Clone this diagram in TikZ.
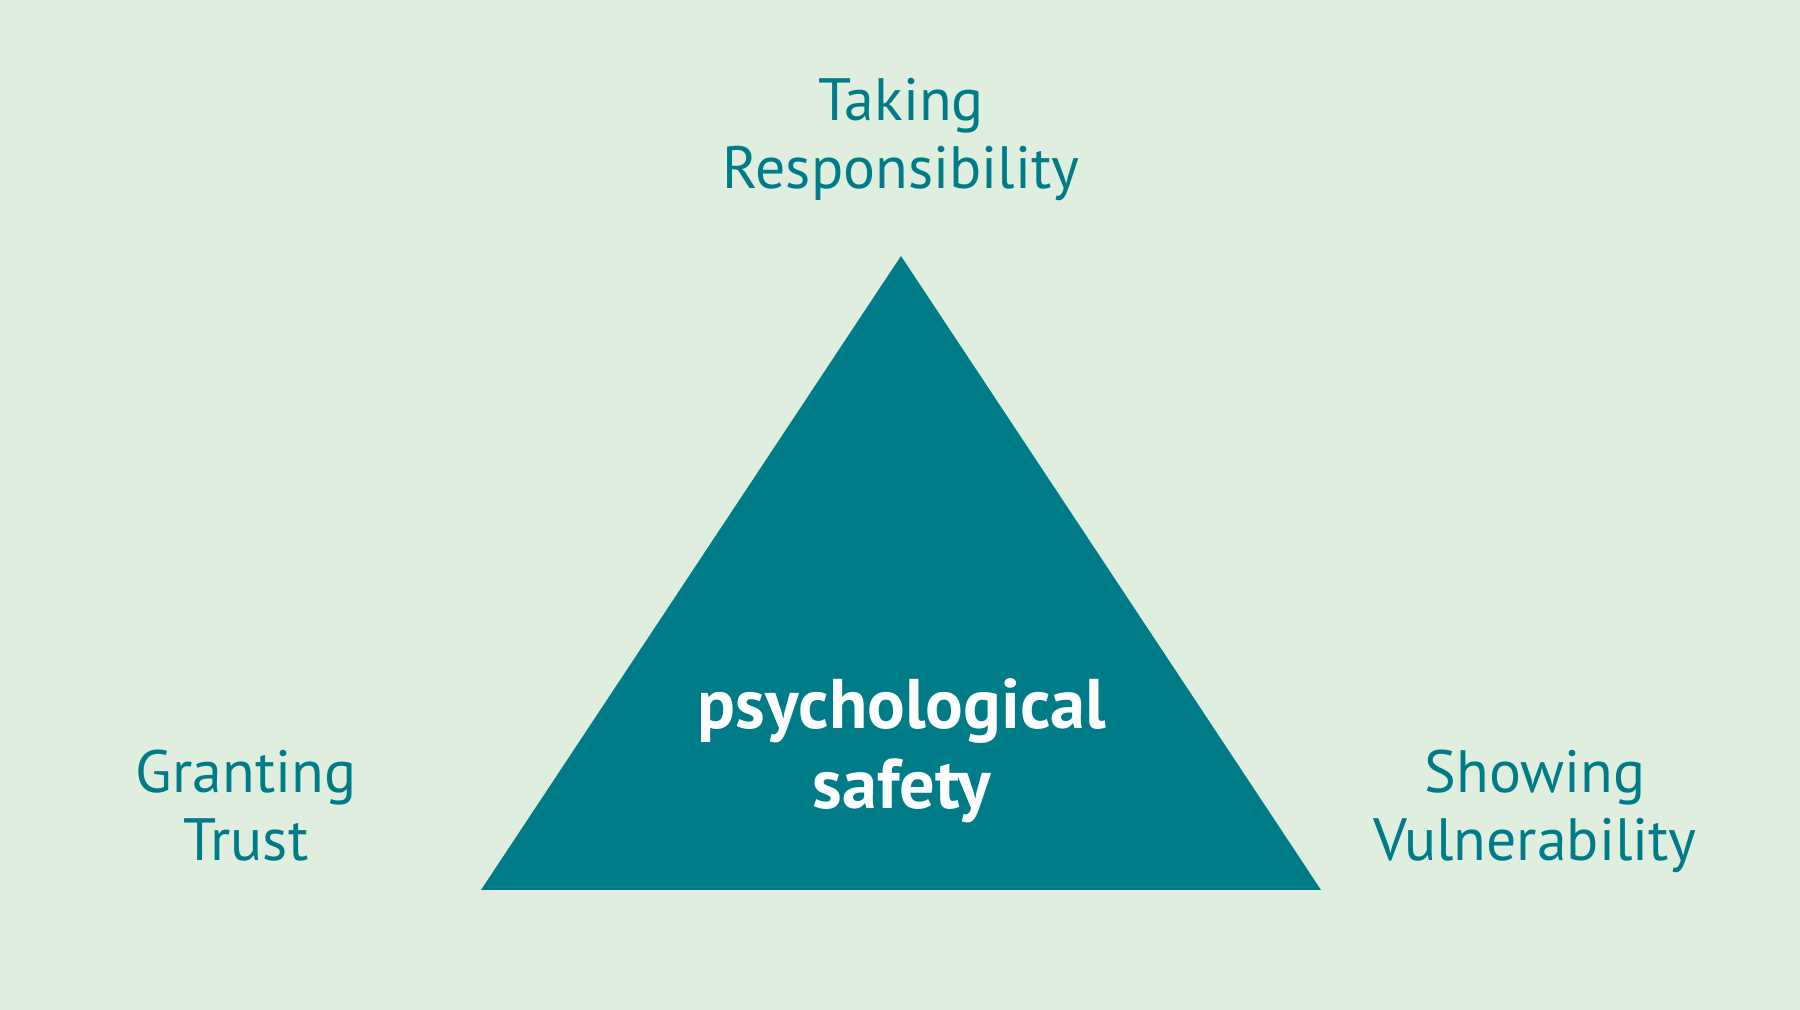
\documentclass[tikz,border=0pt]{standalone}
\usepackage{fontspec}
\setmainfont{PT Sans}
\usepackage{tikz}

\definecolor{mint}{HTML}{DFEEDF}
\definecolor{petrol}{HTML}{007C88}

\begin{document}
\begin{tikzpicture}[
	pillar/.style={text=petrol, align=center, anchor=base,
		font=\fontsize{17}{19.6}\selectfont},
	core/.style={text=white, align=center, anchor=base,
		font=\fontsize{20}{22.8}\selectfont\bfseries}
	]
	\useasboundingbox (0,0) rectangle (18,10.1);
	\fill[mint] (0,0) rectangle (18,10.1);
	
	\coordinate (apex) at (9.01,7.54);
	\coordinate (baseL) at (4.81,1.20);
	\coordinate (baseR) at (13.21,1.20);
	\fill[petrol] (baseL) -- (apex) -- (baseR) -- cycle;
	
	% base anchor sits on the last line
	\node[pillar] (taking) at (9.01,8.21) {Taking\\Responsibility};
	\node[pillar] (trust) at (2.46,1.49) {Granting\\Trust};
	\node[pillar] (vuln) at (15.35,1.49) {Showing\\Vulnerability};
	
	\node[core] (safety) at (9.02,2.01) {psychological\\safety};
\end{tikzpicture}
\end{document}
